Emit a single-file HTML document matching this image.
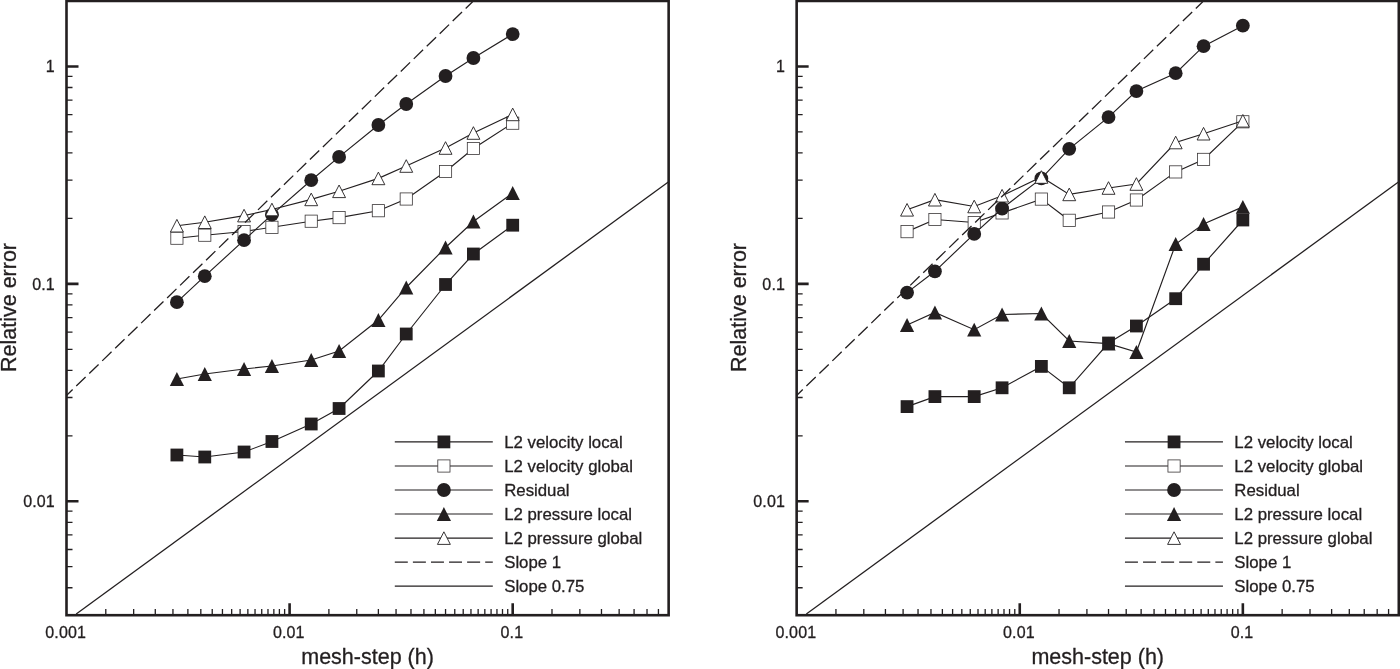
<!DOCTYPE html>
<html><head><meta charset="utf-8"><title>Convergence plots</title>
<style>
html,body{margin:0;padding:0;background:#fff;}
body{width:1400px;height:669px;overflow:hidden;}
svg{display:block;}
svg text{font-family:"Liberation Sans",Arial,Helvetica,sans-serif;fill:#231f20;stroke:#231f20;stroke-width:0.3px;}
</style></head><body>
<svg width="1400" height="669" viewBox="0 0 1400 669">
<rect width="1400" height="669" fill="#fff"/>
<g transform="translate(0,0)">
<path d="M105.79 615.2V609.0M133.66 615.2V609.0M155.28 615.2V609.0M172.95 615.2V609.0M187.88 615.2V609.0M200.82 615.2V609.0M212.23 615.2V609.0M222.44 615.2V609.0M231.67 615.2V609.0M240.11 615.2V609.0M247.86 615.2V609.0M255.04 615.2V609.0M261.73 615.2V609.0M267.98 615.2V609.0M273.85 615.2V609.0M279.39 615.2V609.0M284.63 615.2V609.0M328.89 615.2V609.0M356.76 615.2V609.0M378.38 615.2V609.0M396.05 615.2V609.0M410.98 615.2V609.0M423.92 615.2V609.0M435.33 615.2V609.0M445.54 615.2V609.0M454.77 615.2V609.0M463.21 615.2V609.0M470.96 615.2V609.0M478.14 615.2V609.0M484.83 615.2V609.0M491.08 615.2V609.0M496.95 615.2V609.0M502.49 615.2V609.0M507.73 615.2V609.0M551.99 615.2V609.0M579.86 615.2V609.0M601.48 615.2V609.0M619.15 615.2V609.0M634.08 615.2V609.0M647.02 615.2V609.0M658.43 615.2V609.0M66.5 587.76H72.5M66.5 566.69H72.5M66.5 549.48H72.5M66.5 534.93H72.5M66.5 522.32H72.5M66.5 511.20H72.5M66.5 435.81H72.5M66.5 397.52H72.5M66.5 370.36H72.5M66.5 349.29H72.5M66.5 332.08H72.5M66.5 317.53H72.5M66.5 304.92H72.5M66.5 293.80H72.5M66.5 218.41H72.5M66.5 180.12H72.5M66.5 152.96H72.5M66.5 131.89H72.5M66.5 114.68H72.5M66.5 100.13H72.5M66.5 87.52H72.5M66.5 76.40H72.5" stroke="#231f20" stroke-width="1.3" fill="none"/>
<path d="M289.60 615.2V603.2M512.70 615.2V603.2M66.5 501.25H78.5M66.5 283.85H78.5M66.5 66.45H78.5" stroke="#231f20" stroke-width="2.6" fill="none"/>
<polyline points="176.90,455.00 204.77,457.00 244.06,452.00 271.93,441.50 311.22,424.00 339.09,408.50 378.38,371.00 406.25,334.00 445.54,284.50 473.41,254.00 512.70,225.20" fill="none" stroke="#231f20" stroke-width="1.15"/>
<rect x="170.50" y="448.60" width="12.8" height="12.8" fill="#231f20"/>
<rect x="198.37" y="450.60" width="12.8" height="12.8" fill="#231f20"/>
<rect x="237.66" y="445.60" width="12.8" height="12.8" fill="#231f20"/>
<rect x="265.53" y="435.10" width="12.8" height="12.8" fill="#231f20"/>
<rect x="304.82" y="417.60" width="12.8" height="12.8" fill="#231f20"/>
<rect x="332.69" y="402.10" width="12.8" height="12.8" fill="#231f20"/>
<rect x="371.98" y="364.60" width="12.8" height="12.8" fill="#231f20"/>
<rect x="399.85" y="327.60" width="12.8" height="12.8" fill="#231f20"/>
<rect x="439.14" y="278.10" width="12.8" height="12.8" fill="#231f20"/>
<rect x="467.01" y="247.60" width="12.8" height="12.8" fill="#231f20"/>
<rect x="506.30" y="218.80" width="12.8" height="12.8" fill="#231f20"/>
<polyline points="176.90,238.20 204.77,235.20 244.06,231.50 271.93,227.30 311.22,221.20 339.09,217.60 378.38,210.70 406.25,199.00 445.54,171.50 473.41,148.50 512.70,123.20" fill="none" stroke="#231f20" stroke-width="1.15"/>
<rect x="170.80" y="232.10" width="12.200000000000001" height="12.200000000000001" fill="#fff" stroke="#3a3637" stroke-width="0.8"/>
<rect x="198.67" y="229.10" width="12.200000000000001" height="12.200000000000001" fill="#fff" stroke="#3a3637" stroke-width="0.8"/>
<rect x="237.96" y="225.40" width="12.200000000000001" height="12.200000000000001" fill="#fff" stroke="#3a3637" stroke-width="0.8"/>
<rect x="265.83" y="221.20" width="12.200000000000001" height="12.200000000000001" fill="#fff" stroke="#3a3637" stroke-width="0.8"/>
<rect x="305.12" y="215.10" width="12.200000000000001" height="12.200000000000001" fill="#fff" stroke="#3a3637" stroke-width="0.8"/>
<rect x="332.99" y="211.50" width="12.200000000000001" height="12.200000000000001" fill="#fff" stroke="#3a3637" stroke-width="0.8"/>
<rect x="372.28" y="204.60" width="12.200000000000001" height="12.200000000000001" fill="#fff" stroke="#3a3637" stroke-width="0.8"/>
<rect x="400.15" y="192.90" width="12.200000000000001" height="12.200000000000001" fill="#fff" stroke="#3a3637" stroke-width="0.8"/>
<rect x="439.44" y="165.40" width="12.200000000000001" height="12.200000000000001" fill="#fff" stroke="#3a3637" stroke-width="0.8"/>
<rect x="467.31" y="142.40" width="12.200000000000001" height="12.200000000000001" fill="#fff" stroke="#3a3637" stroke-width="0.8"/>
<rect x="506.60" y="117.10" width="12.200000000000001" height="12.200000000000001" fill="#fff" stroke="#3a3637" stroke-width="0.8"/>
<polyline points="176.90,302.20 204.77,276.20 244.06,240.20 271.93,214.60 311.22,180.20 339.09,156.90 378.38,125.00 406.25,104.00 445.54,76.00 473.41,58.00 512.70,34.10" fill="none" stroke="#231f20" stroke-width="1.15"/>
<circle cx="176.90" cy="302.20" r="6.9" fill="#231f20"/>
<circle cx="204.77" cy="276.20" r="6.9" fill="#231f20"/>
<circle cx="244.06" cy="240.20" r="6.9" fill="#231f20"/>
<circle cx="271.93" cy="214.60" r="6.9" fill="#231f20"/>
<circle cx="311.22" cy="180.20" r="6.9" fill="#231f20"/>
<circle cx="339.09" cy="156.90" r="6.9" fill="#231f20"/>
<circle cx="378.38" cy="125.00" r="6.9" fill="#231f20"/>
<circle cx="406.25" cy="104.00" r="6.9" fill="#231f20"/>
<circle cx="445.54" cy="76.00" r="6.9" fill="#231f20"/>
<circle cx="473.41" cy="58.00" r="6.9" fill="#231f20"/>
<circle cx="512.70" cy="34.10" r="6.9" fill="#231f20"/>
<polyline points="176.90,379.00 204.77,374.00 244.06,369.00 271.93,366.00 311.22,360.00 339.09,351.00 378.38,320.00 406.25,287.50 445.54,247.50 473.41,221.50 512.70,193.00" fill="none" stroke="#231f20" stroke-width="1.15"/>
<polygon points="176.90,372.10 184.00,385.90 169.80,385.90" fill="#231f20"/>
<polygon points="204.77,367.10 211.87,380.90 197.67,380.90" fill="#231f20"/>
<polygon points="244.06,362.10 251.16,375.90 236.96,375.90" fill="#231f20"/>
<polygon points="271.93,359.10 279.03,372.90 264.83,372.90" fill="#231f20"/>
<polygon points="311.22,353.10 318.32,366.90 304.12,366.90" fill="#231f20"/>
<polygon points="339.09,344.10 346.19,357.90 331.99,357.90" fill="#231f20"/>
<polygon points="378.38,313.10 385.48,326.90 371.28,326.90" fill="#231f20"/>
<polygon points="406.25,280.60 413.35,294.40 399.15,294.40" fill="#231f20"/>
<polygon points="445.54,240.60 452.64,254.40 438.44,254.40" fill="#231f20"/>
<polygon points="473.41,214.60 480.51,228.40 466.31,228.40" fill="#231f20"/>
<polygon points="512.70,186.10 519.80,199.90 505.60,199.90" fill="#231f20"/>
<polyline points="176.90,225.70 204.77,222.20 244.06,215.60 271.93,209.50 311.22,199.40 339.09,191.30 378.38,178.40 406.25,166.00 445.54,148.00 473.41,133.00 512.70,114.40" fill="none" stroke="#231f20" stroke-width="1.15"/>
<polygon points="176.90,219.40 183.35,232.00 170.45,232.00" fill="#fff" stroke="#231f20" stroke-width="0.9" stroke-linejoin="miter"/>
<polygon points="204.77,215.90 211.22,228.50 198.32,228.50" fill="#fff" stroke="#231f20" stroke-width="0.9" stroke-linejoin="miter"/>
<polygon points="244.06,209.30 250.51,221.90 237.61,221.90" fill="#fff" stroke="#231f20" stroke-width="0.9" stroke-linejoin="miter"/>
<polygon points="271.93,203.20 278.38,215.80 265.48,215.80" fill="#fff" stroke="#231f20" stroke-width="0.9" stroke-linejoin="miter"/>
<polygon points="311.22,193.10 317.67,205.70 304.77,205.70" fill="#fff" stroke="#231f20" stroke-width="0.9" stroke-linejoin="miter"/>
<polygon points="339.09,185.00 345.54,197.60 332.64,197.60" fill="#fff" stroke="#231f20" stroke-width="0.9" stroke-linejoin="miter"/>
<polygon points="378.38,172.10 384.83,184.70 371.93,184.70" fill="#fff" stroke="#231f20" stroke-width="0.9" stroke-linejoin="miter"/>
<polygon points="406.25,159.70 412.70,172.30 399.80,172.30" fill="#fff" stroke="#231f20" stroke-width="0.9" stroke-linejoin="miter"/>
<polygon points="445.54,141.70 451.99,154.30 439.09,154.30" fill="#fff" stroke="#231f20" stroke-width="0.9" stroke-linejoin="miter"/>
<polygon points="473.41,126.70 479.86,139.30 466.96,139.30" fill="#fff" stroke="#231f20" stroke-width="0.9" stroke-linejoin="miter"/>
<polygon points="512.70,108.10 519.15,120.70 506.25,120.70" fill="#fff" stroke="#231f20" stroke-width="0.9" stroke-linejoin="miter"/>
<line x1="66.5" y1="395.5" x2="472.6" y2="1.8" stroke="#231f20" stroke-width="1.3" stroke-dasharray="13 5.08" stroke-dashoffset="4.5"/>
<line x1="76.2" y1="614" x2="668.64" y2="181.7" stroke="#231f20" stroke-width="1.3"/>
<rect x="66.5" y="0.95" width="602.14" height="614.25" fill="none" stroke="#231f20" stroke-width="2.6"/>
<line x1="394.8" y1="441.9" x2="492.8" y2="441.9" stroke="#231f20" stroke-width="1.2"/>
<rect x="437.50" y="435.50" width="12.8" height="12.8" fill="#231f20"/>
<text x="504.2" y="447.80" font-size="16.8">L2 velocity local</text>
<line x1="394.8" y1="466" x2="492.8" y2="466" stroke="#231f20" stroke-width="1.2"/>
<rect x="437.80" y="459.90" width="12.200000000000001" height="12.200000000000001" fill="#fff" stroke="#3a3637" stroke-width="0.8"/>
<text x="504.2" y="471.90" font-size="16.8">L2 velocity global</text>
<line x1="394.8" y1="490" x2="492.8" y2="490" stroke="#231f20" stroke-width="1.2"/>
<circle cx="443.90" cy="490.00" r="6.9" fill="#231f20"/>
<text x="504.2" y="495.90" font-size="16.8">Residual</text>
<line x1="394.8" y1="514" x2="492.8" y2="514" stroke="#231f20" stroke-width="1.2"/>
<polygon points="443.90,507.10 451.00,520.90 436.80,520.90" fill="#231f20"/>
<text x="504.2" y="519.90" font-size="16.8">L2 pressure local</text>
<line x1="394.8" y1="538.1" x2="492.8" y2="538.1" stroke="#231f20" stroke-width="1.2"/>
<polygon points="443.90,531.80 450.35,544.40 437.45,544.40" fill="#fff" stroke="#231f20" stroke-width="0.9" stroke-linejoin="miter"/>
<text x="504.2" y="544.00" font-size="16.8">L2 pressure global</text>
<line x1="394.8" y1="562.2" x2="492.8" y2="562.2" stroke="#231f20" stroke-width="1.2" stroke-dasharray="13 5.08"/>
<text x="504.2" y="568.10" font-size="16.8">Slope 1</text>
<line x1="394.8" y1="586.2" x2="492.8" y2="586.2" stroke="#231f20" stroke-width="1.2"/>
<text x="504.2" y="592.10" font-size="16.8">Slope 0.75</text>
<text x="65.70" y="638.3" font-size="16" letter-spacing="0.15" text-anchor="middle">0.001</text>
<text x="288.80" y="638.3" font-size="16" letter-spacing="0.15" text-anchor="middle">0.01</text>
<text x="511.90" y="638.3" font-size="16" letter-spacing="0.15" text-anchor="middle">0.1</text>
<text x="54.9" y="507.15" font-size="16" letter-spacing="0.15" text-anchor="end">0.01</text>
<text x="54.9" y="289.75" font-size="16" letter-spacing="0.15" text-anchor="end">0.1</text>
<text x="54.9" y="72.35" font-size="16" letter-spacing="0.15" text-anchor="end">1</text>
<text x="367.57" y="664.3" font-size="21.5" text-anchor="middle">mesh-step (h)</text>
<text transform="translate(15.9,307.5) rotate(-90)" font-size="21.5" text-anchor="middle">Relative error</text>
</g>
<g transform="translate(730.15,0)">
<path d="M105.79 615.2V609.0M133.66 615.2V609.0M155.28 615.2V609.0M172.95 615.2V609.0M187.88 615.2V609.0M200.82 615.2V609.0M212.23 615.2V609.0M222.44 615.2V609.0M231.67 615.2V609.0M240.11 615.2V609.0M247.86 615.2V609.0M255.04 615.2V609.0M261.73 615.2V609.0M267.98 615.2V609.0M273.85 615.2V609.0M279.39 615.2V609.0M284.63 615.2V609.0M328.89 615.2V609.0M356.76 615.2V609.0M378.38 615.2V609.0M396.05 615.2V609.0M410.98 615.2V609.0M423.92 615.2V609.0M435.33 615.2V609.0M445.54 615.2V609.0M454.77 615.2V609.0M463.21 615.2V609.0M470.96 615.2V609.0M478.14 615.2V609.0M484.83 615.2V609.0M491.08 615.2V609.0M496.95 615.2V609.0M502.49 615.2V609.0M507.73 615.2V609.0M551.99 615.2V609.0M579.86 615.2V609.0M601.48 615.2V609.0M619.15 615.2V609.0M634.08 615.2V609.0M647.02 615.2V609.0M658.43 615.2V609.0M66.5 587.76H72.5M66.5 566.69H72.5M66.5 549.48H72.5M66.5 534.93H72.5M66.5 522.32H72.5M66.5 511.20H72.5M66.5 435.81H72.5M66.5 397.52H72.5M66.5 370.36H72.5M66.5 349.29H72.5M66.5 332.08H72.5M66.5 317.53H72.5M66.5 304.92H72.5M66.5 293.80H72.5M66.5 218.41H72.5M66.5 180.12H72.5M66.5 152.96H72.5M66.5 131.89H72.5M66.5 114.68H72.5M66.5 100.13H72.5M66.5 87.52H72.5M66.5 76.40H72.5" stroke="#231f20" stroke-width="1.3" fill="none"/>
<path d="M289.60 615.2V603.2M512.70 615.2V603.2M66.5 501.25H78.5M66.5 283.85H78.5M66.5 66.45H78.5" stroke="#231f20" stroke-width="2.6" fill="none"/>
<polyline points="176.90,406.60 204.77,396.60 244.06,396.60 271.93,387.80 311.22,366.40 339.09,387.80 378.38,343.00 406.25,326.00 445.54,298.70 473.41,264.20 512.70,220.00" fill="none" stroke="#231f20" stroke-width="1.15"/>
<rect x="170.50" y="400.20" width="12.8" height="12.8" fill="#231f20"/>
<rect x="198.37" y="390.20" width="12.8" height="12.8" fill="#231f20"/>
<rect x="237.66" y="390.20" width="12.8" height="12.8" fill="#231f20"/>
<rect x="265.53" y="381.40" width="12.8" height="12.8" fill="#231f20"/>
<rect x="304.82" y="360.00" width="12.8" height="12.8" fill="#231f20"/>
<rect x="332.69" y="381.40" width="12.8" height="12.8" fill="#231f20"/>
<rect x="371.98" y="336.60" width="12.8" height="12.8" fill="#231f20"/>
<rect x="399.85" y="319.60" width="12.8" height="12.8" fill="#231f20"/>
<rect x="439.14" y="292.30" width="12.8" height="12.8" fill="#231f20"/>
<rect x="467.01" y="257.80" width="12.8" height="12.8" fill="#231f20"/>
<rect x="506.30" y="213.60" width="12.8" height="12.8" fill="#231f20"/>
<polyline points="176.90,231.65 204.77,219.50 244.06,222.50 271.93,212.90 311.22,199.10 339.09,220.30 378.38,212.00 406.25,200.00 445.54,171.90 473.41,159.40 512.70,121.80" fill="none" stroke="#231f20" stroke-width="1.15"/>
<rect x="170.80" y="225.55" width="12.200000000000001" height="12.200000000000001" fill="#fff" stroke="#3a3637" stroke-width="0.8"/>
<rect x="198.67" y="213.40" width="12.200000000000001" height="12.200000000000001" fill="#fff" stroke="#3a3637" stroke-width="0.8"/>
<rect x="237.96" y="216.40" width="12.200000000000001" height="12.200000000000001" fill="#fff" stroke="#3a3637" stroke-width="0.8"/>
<rect x="265.83" y="206.80" width="12.200000000000001" height="12.200000000000001" fill="#fff" stroke="#3a3637" stroke-width="0.8"/>
<rect x="305.12" y="193.00" width="12.200000000000001" height="12.200000000000001" fill="#fff" stroke="#3a3637" stroke-width="0.8"/>
<rect x="332.99" y="214.20" width="12.200000000000001" height="12.200000000000001" fill="#fff" stroke="#3a3637" stroke-width="0.8"/>
<rect x="372.28" y="205.90" width="12.200000000000001" height="12.200000000000001" fill="#fff" stroke="#3a3637" stroke-width="0.8"/>
<rect x="400.15" y="193.90" width="12.200000000000001" height="12.200000000000001" fill="#fff" stroke="#3a3637" stroke-width="0.8"/>
<rect x="439.44" y="165.80" width="12.200000000000001" height="12.200000000000001" fill="#fff" stroke="#3a3637" stroke-width="0.8"/>
<rect x="467.31" y="153.30" width="12.200000000000001" height="12.200000000000001" fill="#fff" stroke="#3a3637" stroke-width="0.8"/>
<rect x="506.60" y="115.70" width="12.200000000000001" height="12.200000000000001" fill="#fff" stroke="#3a3637" stroke-width="0.8"/>
<polyline points="176.90,292.60 204.77,271.30 244.06,233.90 271.93,208.50 311.22,178.40 339.09,148.80 378.38,117.10 406.25,91.10 445.54,73.20 473.41,46.20 512.70,25.70" fill="none" stroke="#231f20" stroke-width="1.15"/>
<circle cx="176.90" cy="292.60" r="6.9" fill="#231f20"/>
<circle cx="204.77" cy="271.30" r="6.9" fill="#231f20"/>
<circle cx="244.06" cy="233.90" r="6.9" fill="#231f20"/>
<circle cx="271.93" cy="208.50" r="6.9" fill="#231f20"/>
<circle cx="311.22" cy="178.40" r="6.9" fill="#231f20"/>
<circle cx="339.09" cy="148.80" r="6.9" fill="#231f20"/>
<circle cx="378.38" cy="117.10" r="6.9" fill="#231f20"/>
<circle cx="406.25" cy="91.10" r="6.9" fill="#231f20"/>
<circle cx="445.54" cy="73.20" r="6.9" fill="#231f20"/>
<circle cx="473.41" cy="46.20" r="6.9" fill="#231f20"/>
<circle cx="512.70" cy="25.70" r="6.9" fill="#231f20"/>
<polyline points="176.90,325.00 204.77,312.50 244.06,329.70 271.93,314.50 311.22,313.50 339.09,341.00 378.38,343.60 406.25,352.00 445.54,244.00 473.41,224.00 512.70,206.90" fill="none" stroke="#231f20" stroke-width="1.15"/>
<polygon points="176.90,318.10 184.00,331.90 169.80,331.90" fill="#231f20"/>
<polygon points="204.77,305.60 211.87,319.40 197.67,319.40" fill="#231f20"/>
<polygon points="244.06,322.80 251.16,336.60 236.96,336.60" fill="#231f20"/>
<polygon points="271.93,307.60 279.03,321.40 264.83,321.40" fill="#231f20"/>
<polygon points="311.22,306.60 318.32,320.40 304.12,320.40" fill="#231f20"/>
<polygon points="339.09,334.10 346.19,347.90 331.99,347.90" fill="#231f20"/>
<polygon points="378.38,336.70 385.48,350.50 371.28,350.50" fill="#231f20"/>
<polygon points="406.25,345.10 413.35,358.90 399.15,358.90" fill="#231f20"/>
<polygon points="445.54,237.10 452.64,250.90 438.44,250.90" fill="#231f20"/>
<polygon points="473.41,217.10 480.51,230.90 466.31,230.90" fill="#231f20"/>
<polygon points="512.70,200.00 519.80,213.80 505.60,213.80" fill="#231f20"/>
<polyline points="176.90,209.80 204.77,199.70 244.06,206.50 271.93,195.70 311.22,177.00 339.09,194.40 378.38,188.00 406.25,184.00 445.54,142.50 473.41,133.70 512.70,120.80" fill="none" stroke="#231f20" stroke-width="1.15"/>
<polygon points="176.90,203.50 183.35,216.10 170.45,216.10" fill="#fff" stroke="#231f20" stroke-width="0.9" stroke-linejoin="miter"/>
<polygon points="204.77,193.40 211.22,206.00 198.32,206.00" fill="#fff" stroke="#231f20" stroke-width="0.9" stroke-linejoin="miter"/>
<polygon points="244.06,200.20 250.51,212.80 237.61,212.80" fill="#fff" stroke="#231f20" stroke-width="0.9" stroke-linejoin="miter"/>
<polygon points="271.93,189.40 278.38,202.00 265.48,202.00" fill="#fff" stroke="#231f20" stroke-width="0.9" stroke-linejoin="miter"/>
<polygon points="311.22,170.70 317.67,183.30 304.77,183.30" fill="#fff" stroke="#231f20" stroke-width="0.9" stroke-linejoin="miter"/>
<polygon points="339.09,188.10 345.54,200.70 332.64,200.70" fill="#fff" stroke="#231f20" stroke-width="0.9" stroke-linejoin="miter"/>
<polygon points="378.38,181.70 384.83,194.30 371.93,194.30" fill="#fff" stroke="#231f20" stroke-width="0.9" stroke-linejoin="miter"/>
<polygon points="406.25,177.70 412.70,190.30 399.80,190.30" fill="#fff" stroke="#231f20" stroke-width="0.9" stroke-linejoin="miter"/>
<polygon points="445.54,136.20 451.99,148.80 439.09,148.80" fill="#fff" stroke="#231f20" stroke-width="0.9" stroke-linejoin="miter"/>
<polygon points="473.41,127.40 479.86,140.00 466.96,140.00" fill="#fff" stroke="#231f20" stroke-width="0.9" stroke-linejoin="miter"/>
<polygon points="512.70,114.50 519.15,127.10 506.25,127.10" fill="#fff" stroke="#231f20" stroke-width="0.9" stroke-linejoin="miter"/>
<line x1="66.5" y1="395.5" x2="472.6" y2="1.8" stroke="#231f20" stroke-width="1.3" stroke-dasharray="13 5.08" stroke-dashoffset="4.5"/>
<line x1="76.2" y1="614" x2="668.64" y2="181.7" stroke="#231f20" stroke-width="1.3"/>
<rect x="66.5" y="0.95" width="602.14" height="614.25" fill="none" stroke="#231f20" stroke-width="2.6"/>
<line x1="394.8" y1="441.9" x2="492.8" y2="441.9" stroke="#231f20" stroke-width="1.2"/>
<rect x="437.50" y="435.50" width="12.8" height="12.8" fill="#231f20"/>
<text x="504.2" y="447.80" font-size="16.8">L2 velocity local</text>
<line x1="394.8" y1="466" x2="492.8" y2="466" stroke="#231f20" stroke-width="1.2"/>
<rect x="437.80" y="459.90" width="12.200000000000001" height="12.200000000000001" fill="#fff" stroke="#3a3637" stroke-width="0.8"/>
<text x="504.2" y="471.90" font-size="16.8">L2 velocity global</text>
<line x1="394.8" y1="490" x2="492.8" y2="490" stroke="#231f20" stroke-width="1.2"/>
<circle cx="443.90" cy="490.00" r="6.9" fill="#231f20"/>
<text x="504.2" y="495.90" font-size="16.8">Residual</text>
<line x1="394.8" y1="514" x2="492.8" y2="514" stroke="#231f20" stroke-width="1.2"/>
<polygon points="443.90,507.10 451.00,520.90 436.80,520.90" fill="#231f20"/>
<text x="504.2" y="519.90" font-size="16.8">L2 pressure local</text>
<line x1="394.8" y1="538.1" x2="492.8" y2="538.1" stroke="#231f20" stroke-width="1.2"/>
<polygon points="443.90,531.80 450.35,544.40 437.45,544.40" fill="#fff" stroke="#231f20" stroke-width="0.9" stroke-linejoin="miter"/>
<text x="504.2" y="544.00" font-size="16.8">L2 pressure global</text>
<line x1="394.8" y1="562.2" x2="492.8" y2="562.2" stroke="#231f20" stroke-width="1.2" stroke-dasharray="13 5.08"/>
<text x="504.2" y="568.10" font-size="16.8">Slope 1</text>
<line x1="394.8" y1="586.2" x2="492.8" y2="586.2" stroke="#231f20" stroke-width="1.2"/>
<text x="504.2" y="592.10" font-size="16.8">Slope 0.75</text>
<text x="65.70" y="638.3" font-size="16" letter-spacing="0.15" text-anchor="middle">0.001</text>
<text x="288.80" y="638.3" font-size="16" letter-spacing="0.15" text-anchor="middle">0.01</text>
<text x="511.90" y="638.3" font-size="16" letter-spacing="0.15" text-anchor="middle">0.1</text>
<text x="54.9" y="507.15" font-size="16" letter-spacing="0.15" text-anchor="end">0.01</text>
<text x="54.9" y="289.75" font-size="16" letter-spacing="0.15" text-anchor="end">0.1</text>
<text x="54.9" y="72.35" font-size="16" letter-spacing="0.15" text-anchor="end">1</text>
<text x="367.57" y="664.3" font-size="21.5" text-anchor="middle">mesh-step (h)</text>
<text transform="translate(15.9,307.5) rotate(-90)" font-size="21.5" text-anchor="middle">Relative error</text>
</g>
</svg>
</body></html>
